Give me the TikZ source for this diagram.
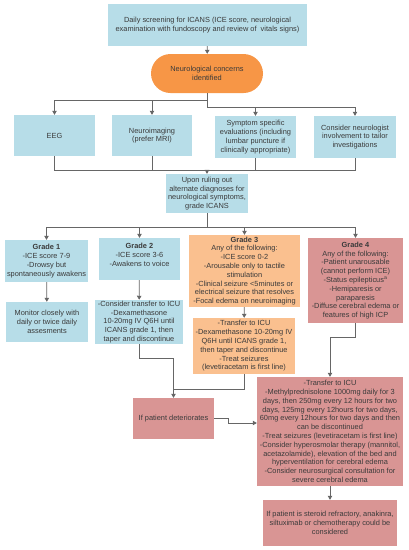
\documentclass[tikz,border=0pt]{standalone}
\usepackage{fontspec}
\setmainfont{Liberation Sans}
\usetikzlibrary{arrows.meta}
\definecolor{lblue}{HTML}{B7DDE8}
\definecolor{lorange}{HTML}{FAC08F}
\definecolor{dorange}{HTML}{F79646}
\definecolor{lpink}{HTML}{D99594}
\definecolor{txt}{HTML}{3A3A3A}
\definecolor{ln}{HTML}{666666}
\tikzset{
  box/.style={rectangle, inner sep=1pt, align=center, text=txt,
    font=\fontsize{7.4}{8.8}\selectfont},
  bluebox/.style={box, fill=lblue},
  orbox/.style={box, fill=lorange},
  pinkbox/.style={box, fill=lpink},
  conn/.style={draw=ln, line width=0.7pt},
  arr/.style={conn, -{Triangle[width=4.5pt,length=4pt]}},
}
\begin{document}
\begin{tikzpicture}[x=1pt,y=-1pt]
\useasboundingbox (0,0) rectangle (408,550);
\node[bluebox, minimum width=199, minimum height=42] (top) at (207.5,25)
  {Daily screening for ICANS (ICE score, neurological\\examination with fundoscopy and review of\ \ vitals signs)};
\node[box, fill=dorange, minimum width=112, minimum height=39, rounded corners=19.5pt] (oval) at (207,73.5)
  {Neurological concerns\\identified};
\node[bluebox, minimum width=81, minimum height=41] (eeg) at (54.5,135.5) {EEG};
\node[bluebox, minimum width=80, minimum height=41] (neuro) at (152,135.5) {Neuroimaging\\(prefer MRI)};
\node[bluebox, minimum width=81, minimum height=42] (symp) at (255.5,137)
  {Symptom specific\\evaluations (including\\lumbar puncture if\\clinically appropriate)};
\node[bluebox, minimum width=82, minimum height=42] (consult) at (355,137)
  {Consider neurologist\\involvement to tailor\\investigations};
\node[bluebox, minimum width=82, minimum height=39] (upon) at (207,193.5)
  {Upon ruling out\\alternate diagnoses for\\neurological symptoms,\\grade ICANS};
\node[bluebox, minimum width=83, minimum height=42] (g1) at (46.5,261)
  {\textbf{Grade 1}\\-ICE score 7-9\\-Drowsy but\\spontaneously awakens};
\node[bluebox, minimum width=81, minimum height=42] (g2) at (139.5,259)
  {\textbf{Grade 2}\\-ICE score 3-6\\-Awakens to voice\\\mbox{}};
\node[orbox, minimum width=111, minimum height=72] (g3) at (244.5,271)
  {\textbf{Grade 3}\\Any of the following:\\-ICE score 0-2\\-Arousable only to tactile\\stimulation\\-Clinical seizure <5minutes or\\electrical seizure that resolves\\-Focal edema on neuroimaging};
\node[pinkbox, minimum width=95, minimum height=85] (g4) at (355.5,280.5)
  {\textbf{Grade 4}\\Any of the following:\\-Patient unarousable\\(cannot perform ICE)\\-Status epilepticus\textsuperscript{a}\\-Hemiparesis or\\paraparesis\\-Diffuse cerebral edema or\\features of high ICP};
\node[bluebox, minimum width=82, minimum height=40] (mon) at (47,322)
  {Monitor closely with\\daily or twice daily\\assesments};
\node[bluebox, minimum width=88, minimum height=44] (dex) at (139,322)
  {-Consider transfer to ICU\\-Dexamethasone\\10-20mg IV Q6H until\\ICANS grade 1, then\\taper and discontinue};
\node[orbox, minimum width=102, minimum height=56] (tr3) at (244,346)
  {-Transfer to ICU\\-Dexamethasone 10-20mg IV\\Q6H until ICANS grade 1,\\then taper and discontinue\\-Treat seizures\\(levetiracetam is first line)};
\node[pinkbox, minimum width=81, minimum height=41] (det) at (173.5,418.5) {If patient deteriorates};
\node[pinkbox, minimum width=146, minimum height=109] (big) at (330,431.5)
  {-Transfer to ICU\\-Methylprednisolone 1000mg daily for 3\\days, then 250mg every 12 hours for two\\days, 125mg every 12hours for two days,\\60mg every 12hours for two days and then\\can be discontinued\\-Treat seizures (levetiracetam is first line)\\-Consider hyperosmolar therapy (mannitol,\\acetazolamide), elevation of the bed and\\hyperventilation for cerebral edema\\-Consider neurosurgical consultation for\\severe cerebral edema};
\node[pinkbox, minimum width=134, minimum height=46] (last) at (330,523)
  {If patient is steroid refractory, anakinra,\\siltuximab or chemotherapy could be\\considered};
% connectors
\coordinate (jL) at (207,100);
\coordinate (jR) at (207,107);
\coordinate (jB) at (207,170);
\coordinate (jG) at (207,227);
\coordinate (j2) at (139,358);
\coordinate (j3) at (174,389);
\coordinate (jd) at (228,423);
\coordinate (j4) at (355.5,337);
\draw[arr] (top) -- (oval);
\draw[conn] (oval.south) -- (jR);
\draw[arr] (jL) -| (eeg.north);
\draw[arr] (jL) -| (neuro.north);
\draw[arr] (jR) -| (symp.north);
\draw[arr] (jR) -| (consult.north);
\draw[conn] (eeg.south) |- (jB);
\draw[conn] (consult.south) |- (jB);
\draw[conn] (neuro.south) -- (neuro.south |- jB);
\draw[conn] (symp.south) -- (symp.south |- jB);
\draw[arr] (jB) -- (upon.north);
\draw[conn] (upon.south) -- (jG);
\draw[arr] (jG) -| (g1.north);
\draw[arr] (jG) -| (g2.north);
\draw[arr] (jG) -| (g3.north);
\draw[arr] (jG) -| (g4.north);
\draw[arr] (g1) -- (mon);
\draw[arr] (g2) -- (dex);
\draw[arr] (g3) -- (tr3);
\draw[arr] (dex.south) |- (j2) -| (det.north);
\draw[conn] (tr3.south) |- (j3);
\draw[arr] (det.east) -| (jd) -- (jd -| big.west);
\draw[arr] (g4.south) -- (j4) -| (big.north);
\draw[arr] (big) -- (last);
\end{tikzpicture}
\end{document}
